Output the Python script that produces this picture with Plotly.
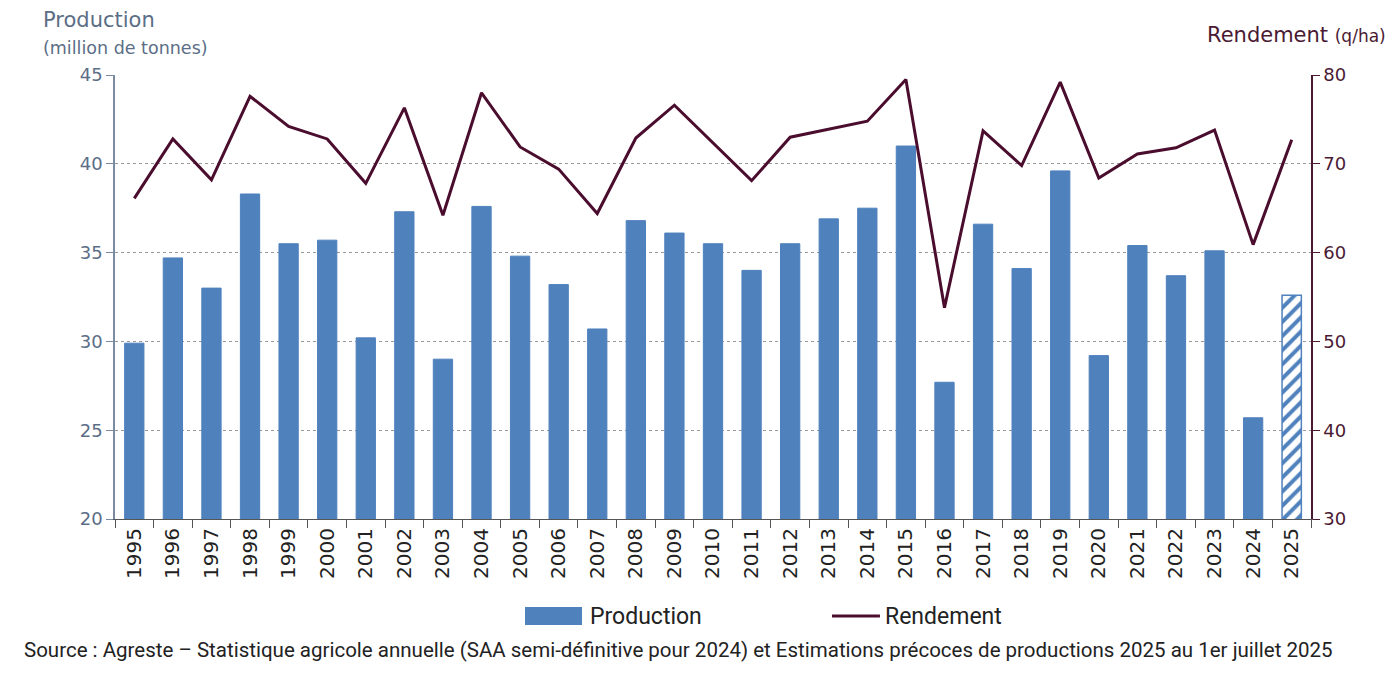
import plotly.graph_objects as go

years = [str(y) for y in range(1995, 2026)]
production = [29.9, 34.7, 33.0, 38.3, 35.5, 35.7, 30.2, 37.3, 29.0, 37.6,
              34.8, 33.2, 30.7, 36.8, 36.1, 35.5, 34.0, 35.5, 36.9, 37.5,
              41.0, 27.7, 36.6, 34.1, 39.6, 29.2, 35.4, 33.7, 35.1, 25.7, 32.6]
rendement = [66.1, 72.8, 68.2, 77.6, 74.2, 72.8, 67.8, 76.3, 64.2, 78.0,
             71.9, 69.4, 64.4, 72.9, 76.6, 72.4, 68.1, 73.0, 73.9, 74.8,
             79.5, 53.8, 73.7, 69.8, 79.2, 68.4, 71.1, 71.8, 73.8, 60.9, 72.7]

BLUE = "#4F81BD"
MAROON = "#4B0D2E"
LEFT_C = "#5B6E86"
RIGHT_C = "#4A1A33"
FONT = "DejaVu Sans, sans-serif"
TXT = "Roboto, sans-serif"

fig = go.Figure()
# definitive years
fig.add_trace(go.Bar(
    x=years[:-1], y=production[:-1], name="Production", width=0.5,
    marker=dict(color=BLUE, line=dict(color=BLUE, width=1)),
    yaxis="y", showlegend=False,
))
# 2025 estimate (hatched)
fig.add_trace(go.Bar(
    x=years[-1:], y=production[-1:], name="Production (estimation)", width=0.5,
    marker=dict(color="white", line=dict(color=BLUE, width=1.5),
                pattern=dict(shape="/", fgcolor=BLUE, fgopacity=1, fillmode="overlay",
                             size=10, solidity=0.4)),
    yaxis="y", showlegend=False,
))
fig.add_trace(go.Scatter(
    x=years, y=rendement, name="Rendement", mode="lines",
    line=dict(color=MAROON, width=3), yaxis="y2", showlegend=False,
))

fig.update_layout(
    width=1400, height=684,
    margin=dict(l=115, r=89, t=75, b=165),
    plot_bgcolor="white", paper_bgcolor="white",
    font=dict(family=FONT, size=17, color="#333"),
    showlegend=False,
    barmode="overlay",
    xaxis=dict(
        type="category", categoryorder="array", categoryarray=years,
        tickangle=-90, tickson="boundaries",
        ticks="outside", ticklen=8, tickcolor="#555",
        showline=True, linecolor="#555", linewidth=1.2,
        showgrid=False,
        tickfont=dict(family=FONT, size=20, color="#222"),
    ),
    yaxis=dict(
        range=[20, 45], dtick=5, tick0=20,
        showgrid=True, gridcolor="#9a9a9a", griddash="dot", gridwidth=1,
        showline=True, linecolor="#7a8aa0", linewidth=1.5,
        ticks="outside", ticklen=7, tickcolor="#7a8aa0",
        tickfont=dict(family=FONT, size=18, color=LEFT_C),
        zeroline=False,
    ),
    yaxis2=dict(
        range=[30, 80], dtick=10, overlaying="y", side="right",
        showgrid=False,
        showline=True, linecolor=RIGHT_C, linewidth=1.5,
        ticks="outside", ticklen=7, tickcolor=RIGHT_C,
        tickfont=dict(family=FONT, size=18, color=RIGHT_C),
        zeroline=False,
    ),
)

# axis titles
fig.add_annotation(xref="paper", yref="paper", x=-0.062, y=1.124, xanchor="left", yanchor="middle",
                   text="Production", showarrow=False,
                   font=dict(family=FONT, size=21, color=LEFT_C))
fig.add_annotation(xref="paper", yref="paper", x=-0.062, y=1.061, xanchor="left", yanchor="middle",
                   text="(million de tonnes)", showarrow=False,
                   font=dict(family=FONT, size=17.5, color=LEFT_C))
fig.add_annotation(xref="paper", yref="paper", x=1.064, y=1.09, xanchor="right", yanchor="middle",
                   text="Rendement <span style='font-size:17px'>(q/ha)</span>", showarrow=False,
                   font=dict(family=FONT, size=21, color=RIGHT_C))

# legend (drawn)
fig.add_shape(type="rect", xref="paper", yref="paper", x0=0.3428, x1=0.3905, y0=-0.2387, y1=-0.1982,
              fillcolor=BLUE, line=dict(width=0))
fig.add_annotation(xref="paper", yref="paper", x=0.3955, y=-0.2185, xanchor="left", yanchor="middle",
                   text="Production", showarrow=False, font=dict(family=TXT, size=23, color="#222"))
fig.add_shape(type="line", xref="paper", yref="paper", x0=0.5995, x1=0.6396, y0=-0.2185, y1=-0.2185,
              line=dict(color=MAROON, width=3))
fig.add_annotation(xref="paper", yref="paper", x=0.6421, y=-0.2185, xanchor="left", yanchor="middle",
                   text="Rendement", showarrow=False, font=dict(family=TXT, size=23, color="#222"))

fig.add_annotation(xref="paper", yref="paper", x=-0.0778, y=-0.295, xanchor="left", yanchor="middle",
                   text="Source : Agreste \u2013 Statistique agricole annuelle (SAA semi-d\u00e9finitive pour 2024) et Estimations pr\u00e9coces de productions 2025 au 1er juillet 2025",
                   showarrow=False,
                   font=dict(family=TXT, size=20.5, color="#222"))

fig.write_html("out.html")
